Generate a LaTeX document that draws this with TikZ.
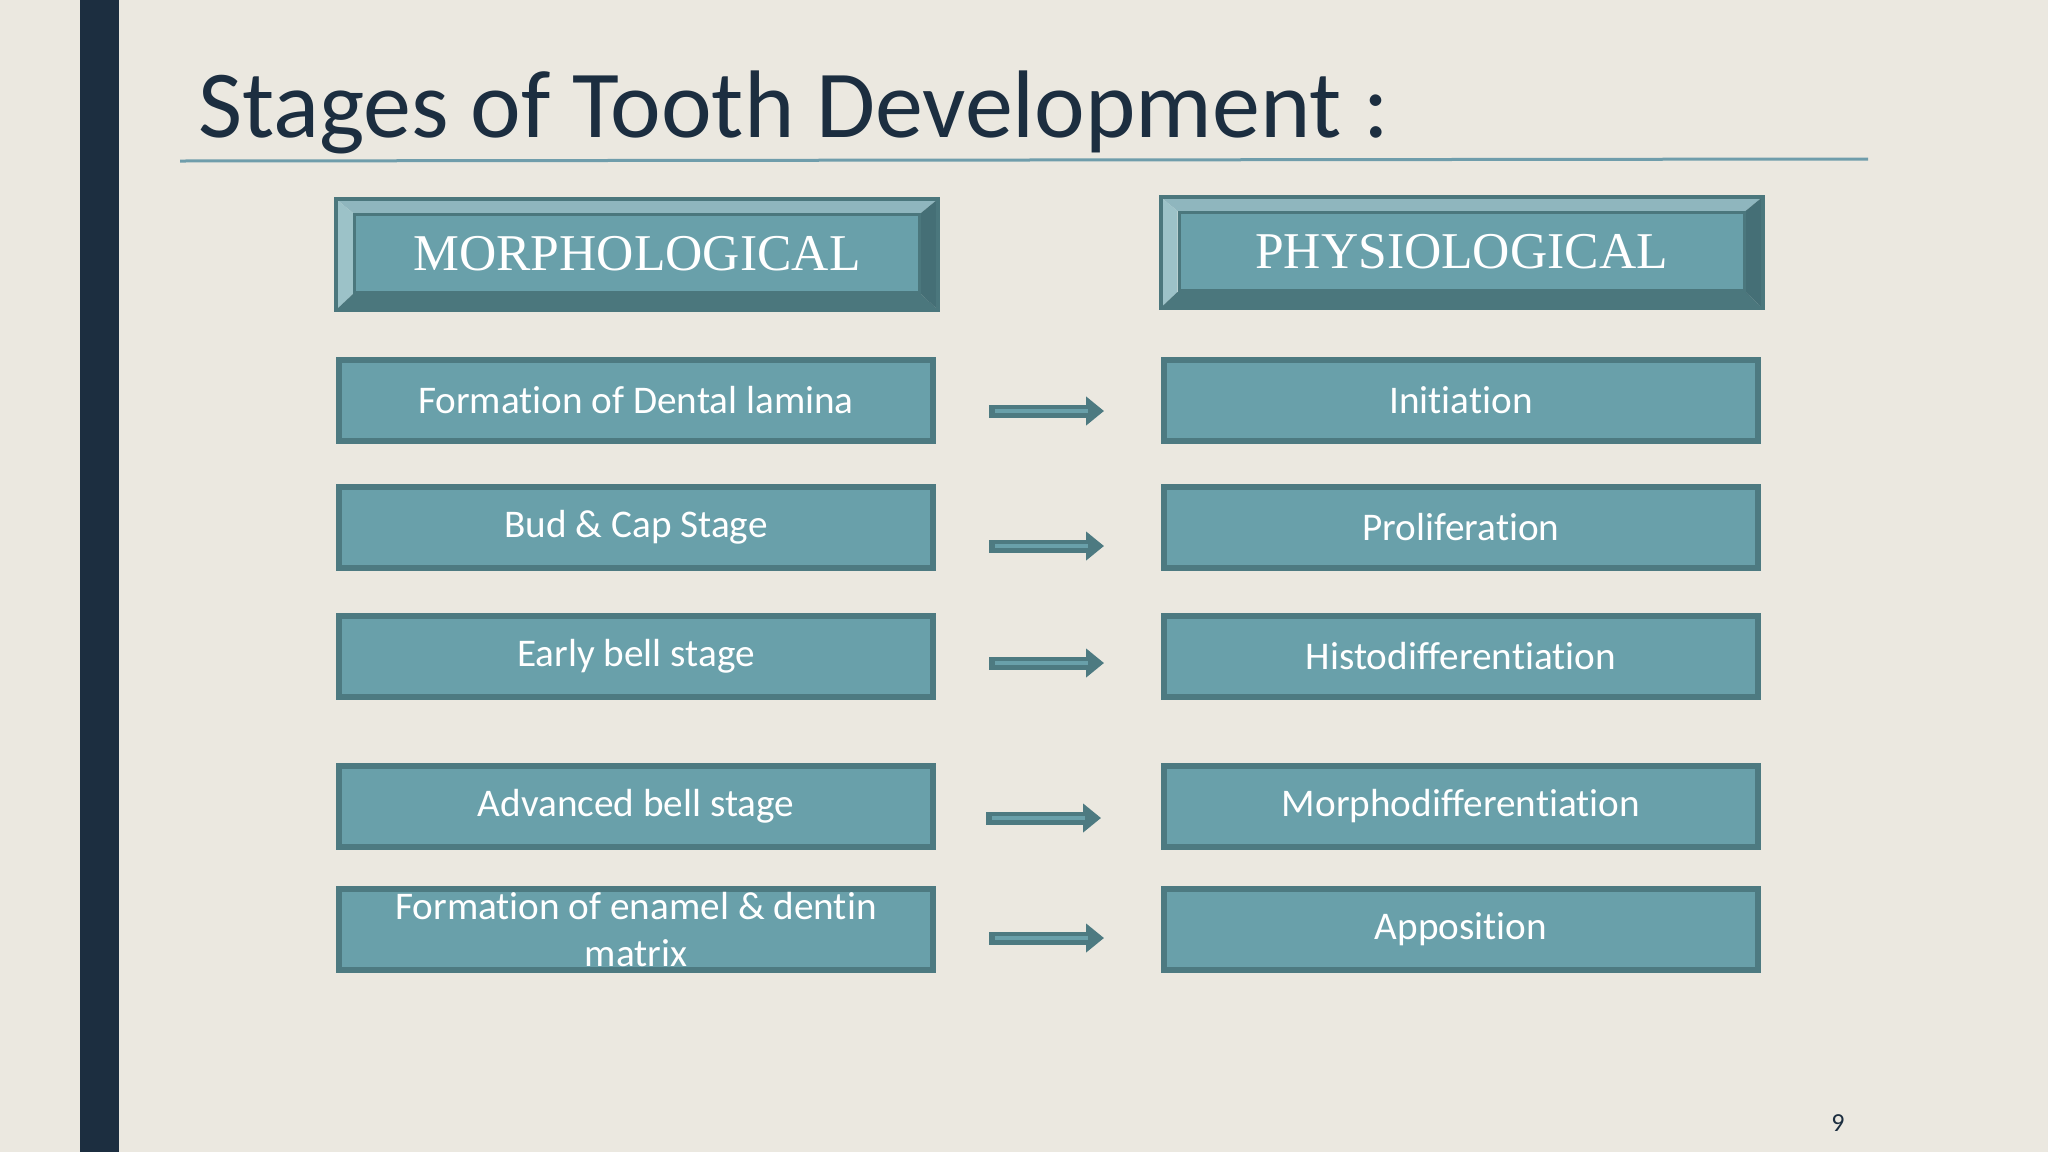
\documentclass[tikz,border=0pt]{standalone}
\usepackage{fontspec}
\setmainfont{Carlito}[Ligatures=NoCommon]
\newfontfamily\hdrfont{Liberation Serif}
\usetikzlibrary{arrows.meta,calc}
\definecolor{bg}{HTML}{EBE8E0}
\definecolor{navy}{HTML}{1C2E40}
\definecolor{boxfill}{HTML}{69A0AA}
\definecolor{boxedge}{HTML}{4D7A81}
\definecolor{rulec}{HTML}{6F9DAB}
\definecolor{bevlight}{HTML}{8FB6BE}
\definecolor{bevleft}{HTML}{9CC2C8}
\definecolor{bevdark}{HTML}{4B777D}
\definecolor{bevright}{HTML}{456F76}
\begin{document}
\begin{tikzpicture}[x=0.5pt,y=-0.5pt,
 stagebox/.style={draw=boxedge, fill=boxfill, line width=3pt, minimum width=297pt, minimum height=40.5pt, inner sep=0pt, text=white, font=\fontsize{19.6}{23.5}\selectfont, align=center},
 hdrbox/.style={draw=bevdark, fill=boxfill, line width=1.5pt, minimum width=282.5pt, minimum height=39pt, inner sep=0pt, text=white, font=\hdrfont\fontsize{25.8}{28}\selectfont},
 flow/.style={draw=boxedge, line width=6.5pt, -{Triangle[length=9pt,width=14pt]}},
 flowin/.style={draw=boxfill, line width=2pt, shorten >=8pt, shorten <=3pt}]
\fill[bg] (0,0) rectangle (2048,1152);
\useasboundingbox (0,0) rectangle (2048,1152);
\fill[navy] (80,0) rectangle (119,1152);
\node[anchor=base west, text=navy, font=\fontsize{48}{55}\selectfont, inner sep=0pt] (title) at (198,137) {Stages of Tooth Development :};
\coordinate (ruleA) at (180,161);
\coordinate (ruleB) at (1868,159);
\draw[rulec, line width=1.5pt] (ruleA) -- (ruleB);
% headers
\node[hdrbox] (hm) at (637,253.5) {MORPHOLOGICAL};
\node[hdrbox] (hp) at (1461.5,251.5) {PHYSIOLOGICAL};
\foreach \h in {hm,hp}{
  \coordinate (\h onw) at ($(\h.north west)+(-17,-14)$);
  \coordinate (\h one) at ($(\h.north east)+(17,-14)$);
  \coordinate (\h osw) at ($(\h.south west)+(-17,16)$);
  \coordinate (\h ose) at ($(\h.south east)+(17,16)$);
  \fill[bevlight] (\h onw) -- (\h one) -- (\h.north east) -- (\h.north west) -- cycle;
  \fill[bevleft] (\h onw) -- (\h.north west) -- (\h.south west) -- (\h osw) -- cycle;
  \fill[bevdark] (\h osw) -- (\h.south west) -- (\h.south east) -- (\h ose) -- cycle;
  \fill[bevright] (\h one) -- (\h ose) -- (\h.south east) -- (\h.north east) -- cycle;
  \draw[bevdark, line width=2pt] (\h onw) rectangle (\h ose);
}
\node[hdrbox] at (hm) {MORPHOLOGICAL};
\node[hdrbox] at (hp) {PHYSIOLOGICAL};
% stage boxes
\node[stagebox] (l1) at (636,400.5) {Formation of Dental lamina};
\node[stagebox] (l2) at (636,527) {Bud \& Cap Stage};
\node[stagebox] (l3) at (636,656.5) {Early bell stage};
\node[stagebox] (l4) at (636,806.5) {Advanced bell stage};
\node[stagebox] (l5) at (636,929.5) {Formation of enamel \& dentin\\matrix};
\node[stagebox] (r1) at (1461,400.5) {Initiation};
\node[stagebox] (r2) at (1461,527) {Proliferation};
\node[stagebox] (r3) at (1461,656.5) {Histodifferentiation};
\node[stagebox] (r4) at (1461,806.5) {Morphodifferentiation};
\node[stagebox] (r5) at (1461,929.5) {Apposition};
% arrows
\foreach \i/\dy/\dx in {1/-5.25/0,2/-9.5/0,3/-3.25/0,4/-5.75/-1.5,5/-4.25/0}{
  \draw[flow] ([xshift=26.5pt+\dx pt,yshift=\dy pt]l\i.east) -- ([xshift=-28.5pt+\dx pt,yshift=\dy pt]r\i.west);
  \draw[flowin] ([xshift=26.5pt+\dx pt,yshift=\dy pt]l\i.east) -- ([xshift=-28.5pt+\dx pt,yshift=\dy pt]r\i.west);
}
\node[text=navy, font=\fontsize{13}{15}\selectfont, inner sep=0pt] (pg) at (1838,1123) {9};
\end{tikzpicture}
\end{document}
